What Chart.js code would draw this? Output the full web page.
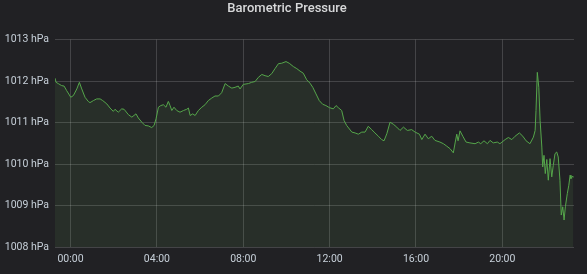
<!DOCTYPE html>
<html>
<head>
<meta charset="utf-8">
<script src="https://cdn.jsdelivr.net/npm/chart.js@4/dist/chart.umd.min.js"></script>
<style>
  html, body { margin: 0; padding: 0; background: #212124; }
  #wrap { width: 587px; height: 274px; position: relative; }
</style>
</head>
<body>
<div id="wrap"><canvas id="grafica"></canvas></div>
<script>
// horas desde las 00:00
const horas = [
  -0.72, -0.67, -0.57, -0.41, -0.30, -0.18, 0.01, 0.13, 0.29, 0.41, 0.52, 0.67, 0.82, 0.90,
  1.06, 1.21, 1.37, 1.49, 1.68, 1.83, 1.98, 2.06, 2.21, 2.37, 2.48, 2.68, 2.84, 3.03, 3.14,
  3.30, 3.45, 3.60, 3.76, 3.87, 3.96, 4.07, 4.18, 4.30, 4.42, 4.53, 4.61, 4.69, 4.79, 4.92,
  5.07, 5.23, 5.38, 5.46, 5.54, 5.66, 5.77, 5.92, 6.08, 6.23, 6.38, 6.54, 6.69, 6.85, 7.00,
  7.16, 7.31, 7.47, 7.62, 7.77, 7.85, 8.00, 8.24, 8.39, 8.55, 8.70, 8.86, 9.01, 9.16, 9.32,
  9.47, 9.63, 9.78, 9.98, 10.13, 10.32, 10.48, 10.63, 10.78, 10.94, 11.09, 11.22, 11.37,
  11.52, 11.68, 11.83, 11.99, 12.17, 12.30, 12.40, 12.56, 12.67, 12.79, 13.03, 13.18, 13.33,
  13.49, 13.64, 13.79, 13.95, 14.10, 14.26, 14.41, 14.52, 14.65, 14.80, 14.95, 15.11, 15.26,
  15.42, 15.60, 15.80, 15.96, 16.16, 16.27, 16.42, 16.57, 16.73, 16.88, 17.11, 17.27, 17.43,
  17.58, 17.73, 17.82, 17.89, 17.95, 18.04, 18.17, 18.32, 18.50, 18.74, 18.89, 19.00, 19.15,
  19.31, 19.43, 19.58, 19.77, 19.89, 20.13, 20.28, 20.44, 20.59, 20.79, 20.95, 21.10, 21.28,
  21.44, 21.52, 21.56, 21.62, 21.69, 21.75, 21.83, 21.87, 21.93, 21.99, 22.06, 22.13, 22.21,
  22.29, 22.36, 22.44, 22.52, 22.59, 22.67, 22.73, 22.80, 22.86, 22.92, 23.01, 23.08, 23.14,
  23.18, 23.26, 23.29
];

const presion = [
  1012.07, 1011.97, 1011.94, 1011.89, 1011.88, 1011.77, 1011.61, 1011.65, 1011.81, 1011.97, 1011.81, 1011.61, 1011.51, 1011.48,
  1011.53, 1011.57, 1011.57, 1011.53, 1011.45, 1011.35, 1011.27, 1011.32, 1011.25, 1011.33, 1011.32, 1011.19, 1011.13, 1011.21, 1011.11,
  1011.01, 1010.93, 1010.92, 1010.88, 1010.93, 1011.09, 1011.37, 1011.41, 1011.43, 1011.37, 1011.51, 1011.41, 1011.29, 1011.37, 1011.29,
  1011.25, 1011.29, 1011.32, 1011.35, 1011.17, 1011.21, 1011.17, 1011.29, 1011.37, 1011.43, 1011.53, 1011.59, 1011.64, 1011.64, 1011.72,
  1011.94, 1011.88, 1011.83, 1011.85, 1011.88, 1011.81, 1011.92, 1011.94, 1011.97, 1011.99, 1012.09, 1012.16, 1012.13, 1012.11, 1012.18,
  1012.30, 1012.42, 1012.43, 1012.47, 1012.43, 1012.35, 1012.30, 1012.24, 1012.19, 1012.03, 1011.95, 1011.85, 1011.69,
  1011.53, 1011.44, 1011.41, 1011.36, 1011.33, 1011.41, 1011.36, 1011.29, 1011.05, 1010.93, 1010.77, 1010.75, 1010.72,
  1010.77, 1010.77, 1010.91, 1010.83, 1010.75, 1010.67, 1010.59, 1010.56, 1010.73, 1011.01, 1010.96, 1010.89, 1010.81,
  1010.89, 1010.81, 1010.83, 1010.77, 1010.72, 1010.59, 1010.72, 1010.61, 1010.67, 1010.57, 1010.53, 1010.49, 1010.43,
  1010.37, 1010.27, 1010.53, 1010.72, 1010.56, 1010.80, 1010.67, 1010.53, 1010.51, 1010.49, 1010.53, 1010.49, 1010.56,
  1010.49, 1010.57, 1010.51, 1010.53, 1010.49, 1010.59, 1010.64, 1010.59, 1010.67, 1010.75, 1010.67, 1010.56, 1010.49,
  1010.65, 1010.81, 1011.29, 1012.21, 1011.85, 1011.05, 1010.41, 1009.93, 1010.21, 1009.77, 1010.11, 1009.61, 1010.13,
  1009.69, 1009.97, 1010.25, 1010.29, 1010.17, 1009.61, 1008.77, 1008.97, 1008.65, 1008.97, 1009.29, 1009.49, 1009.73,
  1009.65, 1009.71, 1009.68
];

const ticksHoras = [0, 4, 8, 12, 16, 20];
const ticksPresion = [1008, 1009, 1010, 1011, 1012, 1013];

const colorLinea = '#56A64B';
const colorTexto = '#c7d0d9';
const colorGrid = 'rgba(255,255,255,0.16)';

const ctx = document.getElementById('grafica').getContext('2d');

new Chart(ctx, {
  type: 'line',
  data: {
    datasets: [{
      label: 'Pressure',
      data: horas.map((h, i) => ({ x: h, y: presion[i] })),
      borderColor: colorLinea,
      backgroundColor: 'rgba(115,191,105,0.09)',
      borderWidth: 1,
      pointRadius: 0,
      fill: 'start',
      tension: 0
    }]
  },
  options: {
    responsive: true,
    maintainAspectRatio: false,
    animation: false,
    layout: { padding: { left: 0, right: 13, top: 0, bottom: 0 } },
    scales: {
      x: {
        type: 'linear',
        min: -0.72,
        max: 23.32,
        afterBuildTicks: scale => { scale.ticks = ticksHoras.map(v => ({ value: v })); },
        afterFit: scale => { scale.height = 27; },
        ticks: {
          color: colorTexto,
          font: { family: 'Roboto', size: 10.5 },
          padding: 6,
          maxRotation: 0,
          callback: v => String(v).padStart(2, '0') + ':00'
        },
        grid: { color: colorGrid, drawTicks: false },
        border: { display: false }
      },
      y: {
        min: 1008,
        max: 1013,
        afterBuildTicks: scale => { scale.ticks = ticksPresion.map(v => ({ value: v })); },
        afterFit: scale => { scale.width = 55; },
        ticks: {
          color: colorTexto,
          font: { family: 'Roboto', size: 10.5 },
          padding: 6,
          callback: v => v + ' hPa'
        },
        grid: { color: colorGrid, drawTicks: false },
        border: { display: false }
      }
    },
    plugins: {
      legend: { display: false },
      tooltip: { enabled: false },
      title: {
        display: true,
        text: 'Barometric Pressure',
        color: '#d8d9da',
        font: { family: 'Roboto', size: 13, weight: '500' },
        padding: { top: 1, bottom: 23 }
      }
    }
  }
});
</script>
</body>
</html>
